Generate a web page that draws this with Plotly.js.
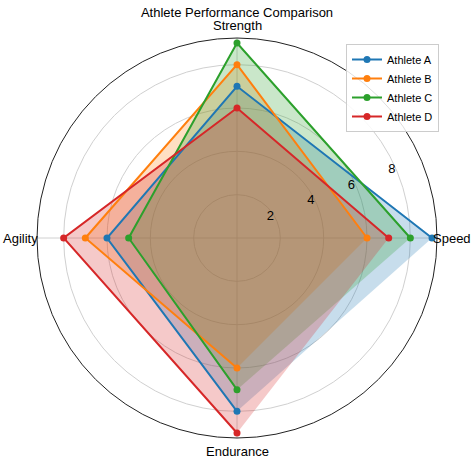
<!DOCTYPE html>
<html>
<head>
<meta charset="utf-8">
<script src="https://cdn.plot.ly/plotly-3.0.1.min.js"></script>
<style>
  html, body { margin: 0; padding: 0; background: #fff; }
  #chart { width: 474px; height: 465px; }
</style>
</head>
<body>
<div id="chart"></div>
<script>
// Skill categories around the radar, starting at 3 o'clock, counter-clockwise
const categories = ["Speed", "Strength", "Agility", "Endurance"];

// Scores per athlete (same order as categories)
const athleteA = [9, 7, 6, 8];
const athleteB = [6, 8, 7, 6];
const athleteC = [8, 9, 5, 7];
const athleteD = [7, 6, 8, 9];

const seriesNames = ["Athlete A", "Athlete B", "Athlete C", "Athlete D"];
const seriesValues = [athleteA, athleteB, athleteC, athleteD];
const seriesColors = ["#1f77b4", "#ff7f0e", "#2ca02c", "#d62728"];

const radialTicks = [2, 4, 6, 8];

function hexToRgba(hex, a) {
  const n = parseInt(hex.slice(1), 16);
  return `rgba(${(n >> 16) & 255},${(n >> 8) & 255},${n & 255},${a})`;
}

const traces = [];

// Translucent filled areas (closed polygons)
seriesValues.forEach((vals, i) => {
  traces.push({
    type: "scatterpolar",
    r: vals,
    theta: categories,
    mode: "none",
    fill: "toself",
    fillcolor: hexToRgba(seriesColors[i], 0.25),
    showlegend: false,
    hoverinfo: "skip"
  });
});

// Outline with markers (open path through the categories)
seriesValues.forEach((vals, i) => {
  traces.push({
    type: "scatterpolar",
    r: vals,
    theta: categories,
    mode: "lines+markers",
    name: seriesNames[i],
    line: { color: seriesColors[i], width: 2 },
    marker: { color: seriesColors[i], size: 7 }
  });
});

// Category labels placed just outside the outer ring (paper coords;
// the polar area spans the full plotting area)
const labelSpecs = [
  { x: 0.985, y: 0.5, xanchor: "left", yanchor: "middle" },   // Speed
  { x: 0.5, y: 1.03, xanchor: "center", yanchor: "middle" },  // Strength
  { x: 0.0075, y: 0.5, xanchor: "right", yanchor: "middle" }, // Agility
  { x: 0.5, y: -0.035, xanchor: "center", yanchor: "middle" } // Endurance
];
const annotations = categories.map((c, i) => Object.assign({
  text: c,
  xref: "paper",
  yref: "paper",
  showarrow: false,
  font: { size: 13, color: "#000" }
}, labelSpecs[i]));

const layout = {
  width: 474,
  height: 465,
  paper_bgcolor: "#fff",
  font: { family: "Liberation Sans, Arial, sans-serif", size: 13, color: "#000" },
  margin: { l: 37, r: 37, t: 38, b: 27 },
  title: {
    text: "Athlete Performance Comparison",
    font: { size: 13, color: "#000" },
    x: 0.5,
    xanchor: "center",
    y: 1 - 12 / 465,
    yanchor: "middle",
    yref: "container"
  },
  annotations: annotations,
  polar: {
    domain: { x: [0, 1], y: [0, 1] },
    bgcolor: "#fff",
    radialaxis: {
      range: [0, 9.23],
      tickvals: radialTicks,
      // leading spaces nudge the labels a little off the axis line
      ticktext: radialTicks.map(v => "\u00a0\u00a0\u00a0\u00a0" + v),
      angle: 21,
      side: "counterclockwise",
      tickangle: 21,
      showline: false,
      ticks: "",
      gridcolor: "#d0d0d0",
      gridwidth: 1,
      tickfont: { size: 13, color: "#000" },
      layer: "above traces"
    },
    angularaxis: {
      type: "category",
      categoryarray: categories,
      rotation: 0,
      direction: "counterclockwise",
      showline: true,
      linecolor: "#222",
      linewidth: 1,
      gridcolor: "#d0d0d0",
      gridwidth: 1,
      ticks: "",
      showticklabels: false,
      layer: "above traces"
    }
  },
  legend: {
    x: 0.7725,
    xanchor: "left",
    y: 0.985,
    yanchor: "top",
    bgcolor: "rgba(255,255,255,0.85)",
    bordercolor: "#cccccc",
    borderwidth: 1,
    font: { size: 11, color: "#000" },
    tracegroupgap: 0
  },
  showlegend: true
};

Plotly.newPlot("chart", traces, layout, { displayModeBar: false, staticPlot: true });
</script>
</body>
</html>
